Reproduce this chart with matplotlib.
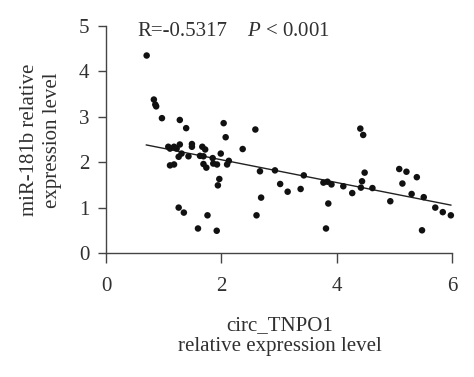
import matplotlib
matplotlib.use("Agg")
import matplotlib.pyplot as plt

x_vals = [0.705, 0.83, 0.855, 0.87, 0.97, 1.28, 1.39, 2.04, 2.075, 2.59,
          1.08, 1.11, 1.18, 1.225, 1.28, 1.31, 1.26, 1.43, 1.49, 1.49,
          1.67, 1.72, 1.63, 1.69, 1.85, 1.99, 1.69, 1.74, 1.86, 1.925,
          2.10, 2.13, 2.37, 1.11, 1.18, 1.965, 1.94, 2.67, 2.93, 3.02,
          3.15, 2.69, 1.26, 1.35, 1.76, 2.61, 1.595, 1.92,
          3.375, 3.43, 3.77, 3.84, 3.91, 3.855, 3.815, 4.115, 4.27, 4.41,
          4.46, 4.485, 4.44, 4.42, 4.62, 4.93, 5.085, 5.21, 5.14, 5.39,
          5.30, 5.51, 5.48, 5.71, 5.84, 5.98]
y_vals = [4.35, 3.38, 3.27, 3.23, 2.97, 2.93, 2.75, 2.86, 2.55, 2.72,
          2.34, 2.30, 2.34, 2.30, 2.39, 2.19, 2.12, 2.13, 2.40, 2.34,
          2.34, 2.28, 2.14, 2.13, 2.09, 2.19, 1.96, 1.88, 1.97, 1.95,
          1.95, 2.03, 2.29, 1.93, 1.95, 1.63, 1.49, 1.80, 1.82, 1.52,
          1.35, 1.22, 1.00, 0.89, 0.83, 0.83, 0.54, 0.49,
          1.41, 1.71, 1.55, 1.57, 1.51, 1.09, 0.54, 1.47, 1.32, 2.74,
          2.60, 1.77, 1.58, 1.44, 1.43, 1.14, 1.85, 1.79, 1.53, 1.67,
          1.30, 1.23, 0.50, 1.00, 0.90, 0.83]

fit_x = [0.70, 5.98]
fit_y = [2.38, 1.055]

x_ticks = [0, 2, 4, 6]
y_ticks = [0, 1, 2, 3, 4, 5]
annotation_r = "R=-0.5317"
annotation_p = "$\\mathit{P}$ < 0.001"
x_label = "circ_TNPO1\nrelative expression level"
y_label = "miR-181b relative\nexpression level"

plt.rcParams['font.family'] = ['Liberation Serif', 'DejaVu Serif']
plt.rcParams['mathtext.fontset'] = 'custom'
plt.rcParams['mathtext.it'] = 'Liberation Serif:italic'
ink = '#303030'
fs = 15

fig = plt.figure(figsize=(4.74, 3.77), dpi=100)
ax = fig.add_axes([106/474, 1-253/377, 346/474, 227/377])

ax.scatter(x_vals, y_vals, s=22, color='#111111', edgecolors='none', zorder=3, clip_on=False)
ax.plot(fit_x, fit_y, color='#222222', lw=1.0, zorder=2)

ax.set_xlim(0, 6)
ax.set_ylim(0, 5)
ax.set_xticks(x_ticks)
ax.set_yticks(y_ticks)
ax.spines['top'].set_visible(False)
ax.spines['right'].set_visible(False)
for s in ['left', 'bottom']:
    ax.spines[s].set_color('#444444')
    ax.spines[s].set_linewidth(1.0)
ax.tick_params(axis='y', direction='out', length=6, width=1.0, color='#444444',
               labelsize=fs, labelcolor=ink, pad=6)
ax.tick_params(axis='x', direction='out', length=7, width=1.0, color='#444444',
               labelsize=fs, labelcolor=ink, pad=10)

fig.text(280/474, 1-336/377, x_label, fontsize=fs, color=ink, ha='center', va='center',
         linespacing=1.2)
fig.text(41/474, 1-140/377, y_label, fontsize=fs, color=ink, ha='center', va='center',
         rotation=90, linespacing=1.25)

fig.text(137/474, 1-31/377, annotation_r, fontsize=fs, color=ink, va='center', ha='left')
fig.text(247/474, 1-31/377, annotation_p, fontsize=fs, color=ink, va='center', ha='left')

fig.savefig("out.png", dpi=100)
